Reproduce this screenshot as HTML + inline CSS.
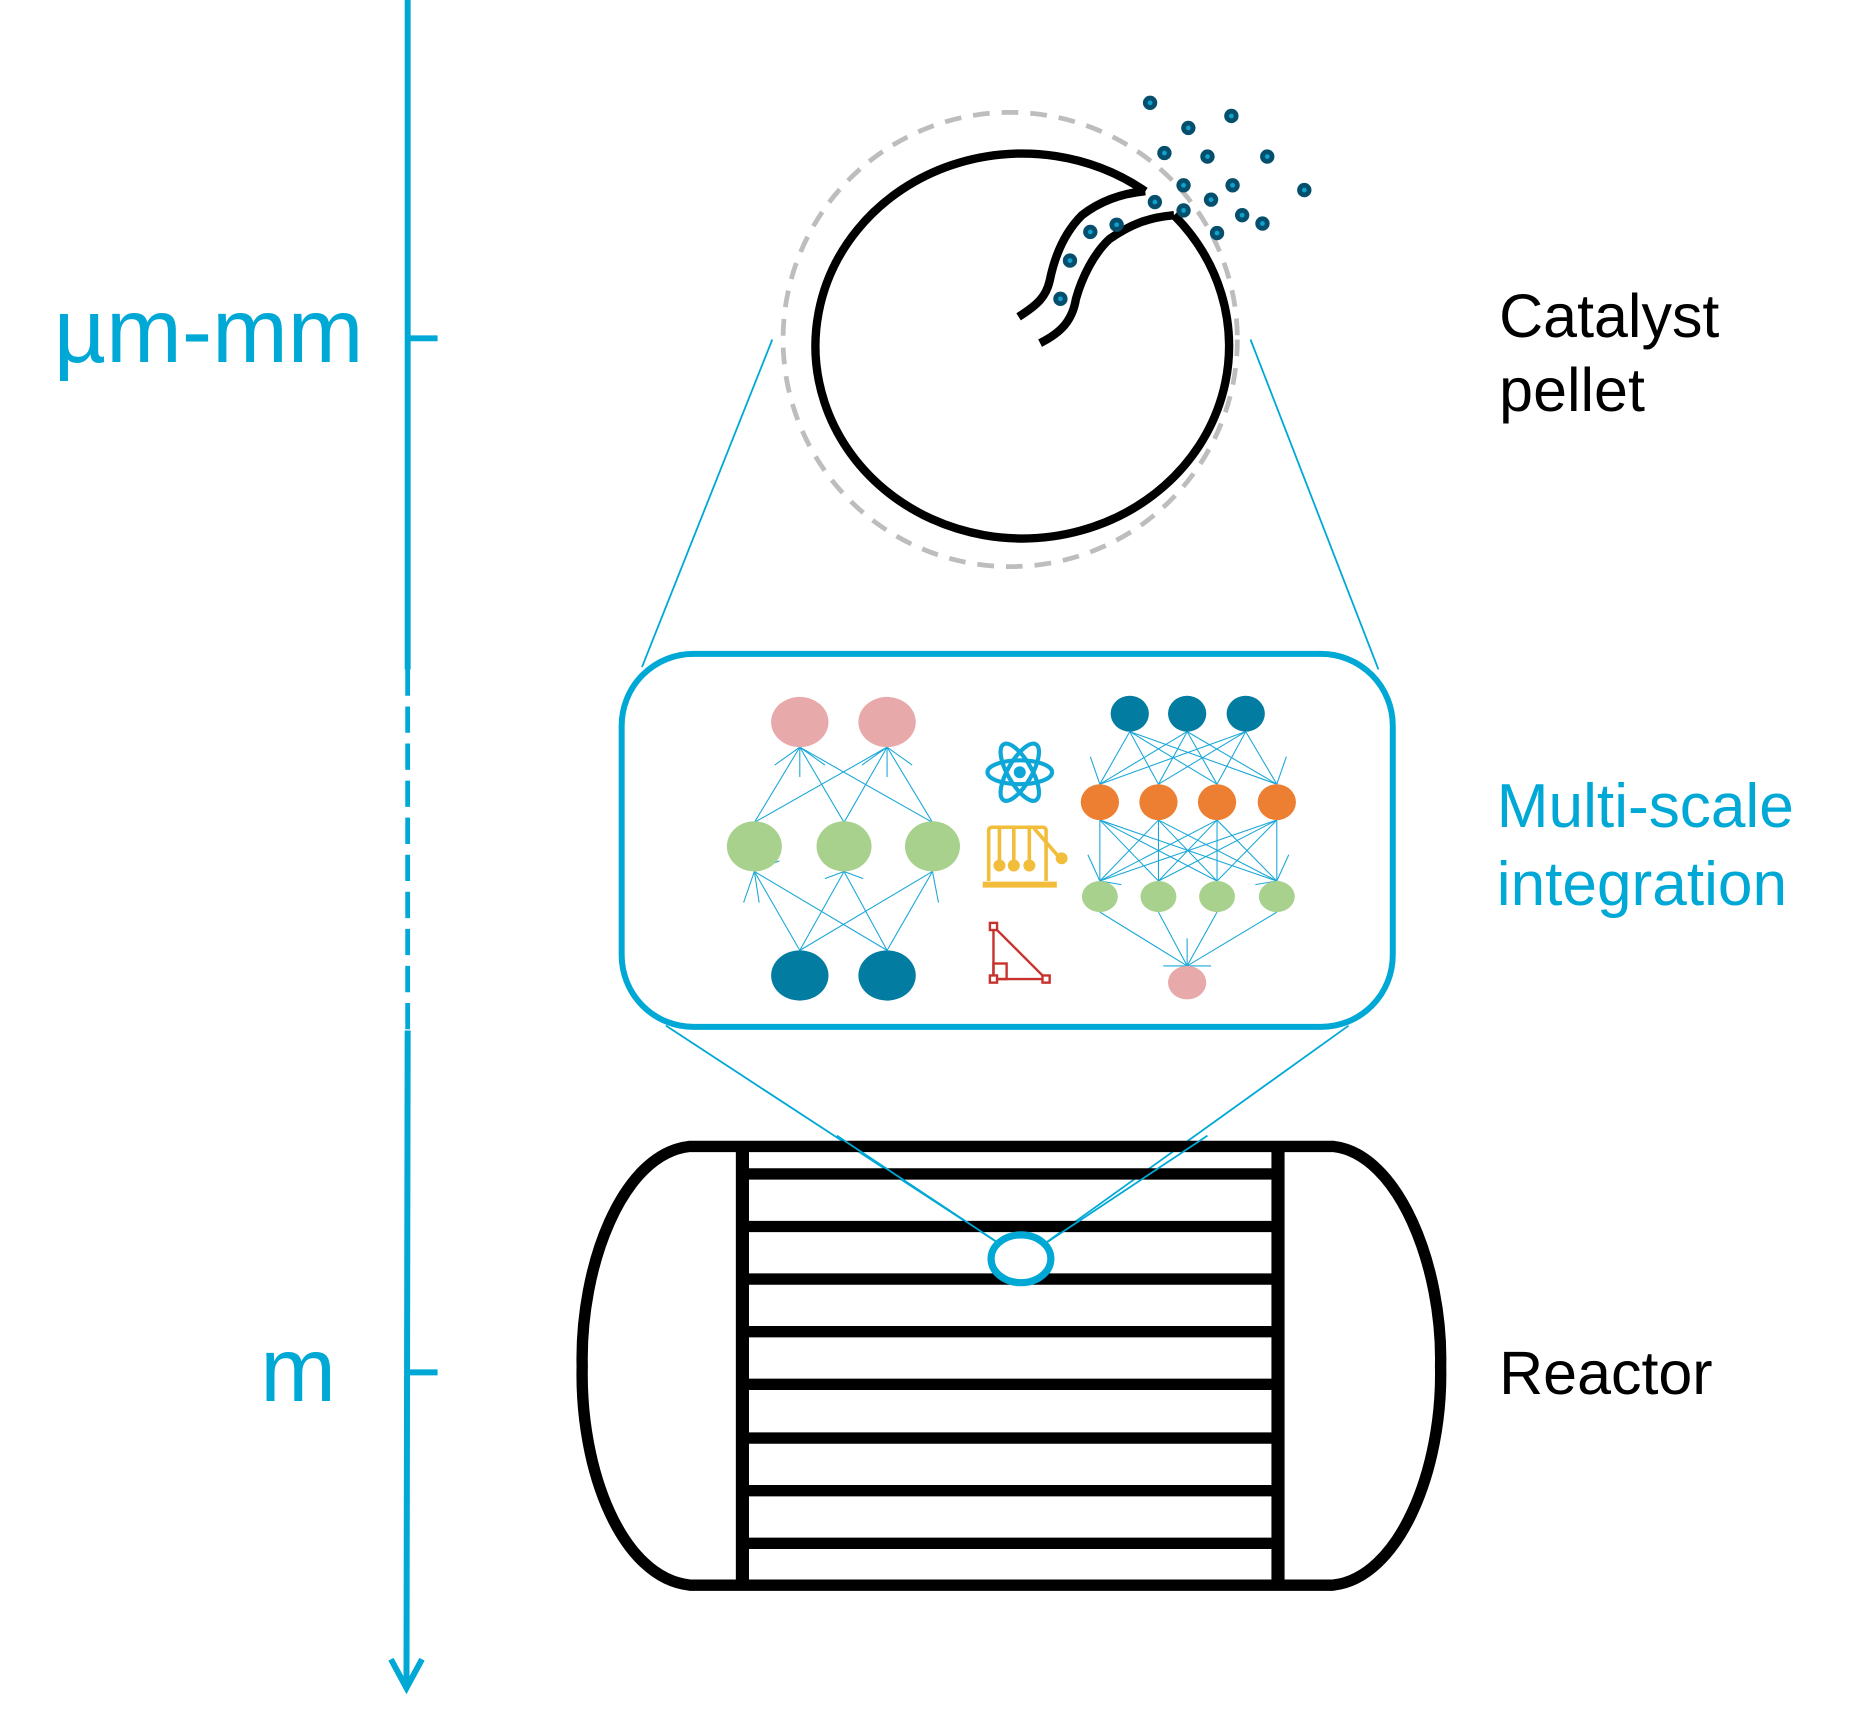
<!DOCTYPE html>
<html><head><meta charset="utf-8"><style>
html,body{margin:0;padding:0;background:#fff;}
svg{display:block;}
text{font-family:"Liberation Sans",Arial,sans-serif;}
</style></head><body>
<svg width="1865" height="1725" viewBox="0 0 1560 1443" preserveAspectRatio="none" xmlns="http://www.w3.org/2000/svg">
<!-- axis -->
<g stroke="#00a8d6" fill="none">
<line x1="341" y1="0" x2="341" y2="560" stroke-width="5"/>
<line x1="341" y1="560" x2="341" y2="862" stroke-width="4" stroke-dasharray="22,9"/>
<line x1="341" y1="862" x2="340" y2="1410" stroke-width="5"/>
<polyline points="327,1388 340,1412 353,1388" stroke-width="5"/>
<line x1="341" y1="283" x2="366" y2="283" stroke-width="5"/>
<line x1="341" y1="1148" x2="366" y2="1148" stroke-width="5"/>
</g>
<text x="304" y="303" font-size="76" fill="#00a8d6" text-anchor="end">µm-mm</text>
<text x="281" y="1172" font-size="76" fill="#00a8d6" text-anchor="end">m</text>

<!-- labels -->
<text x="1254" y="282" font-size="51" fill="#000">Catalyst</text>
<text x="1254" y="344" font-size="51" fill="#000">pellet</text>
<text x="1252" y="692" font-size="52" fill="#00a8d6">Multi-scale</text>
<text x="1252" y="757" font-size="52" fill="#00a8d6">integration</text>
<text x="1254" y="1166" font-size="51" fill="#000">Reactor</text>

<!-- connector lines -->
<g stroke="#00a8d6" stroke-width="1.5" fill="none">
<line x1="646" y1="284" x2="537" y2="558"/>
<line x1="1046" y1="284" x2="1153" y2="560"/>
<line x1="557" y1="858" x2="840" y2="1043"/>
<line x1="1128" y1="858" x2="870" y2="1043"/>
</g>

<!-- pellet -->
<circle cx="845" cy="284" r="190" fill="none" stroke="#bdbdbd" stroke-width="4" stroke-dasharray="14,10"/>
<path d="M958,160 A173,161 0 1 0 982,180" fill="none" stroke="#000" stroke-width="7"/>
<path d="M958,160 C935,162 918,170 905,180 C890,195 882,215 878,235 C875,248 868,255 852,265" fill="none" stroke="#000" stroke-width="7"/>
<path d="M982,180 C960,182 945,188 928,200 C915,212 905,232 900,250 C897,268 888,278 870,287" fill="none" stroke="#000" stroke-width="7"/>
<g fill="#064f6c">
<circle cx="962" cy="86" r="6"/><circle cx="994" cy="107" r="6"/><circle cx="1030" cy="97" r="6"/>
<circle cx="974" cy="128" r="6"/><circle cx="1010" cy="131" r="6"/><circle cx="1060" cy="131" r="6"/>
<circle cx="990" cy="155" r="6"/><circle cx="1031" cy="155" r="6"/><circle cx="1091" cy="159" r="6"/>
<circle cx="966" cy="169" r="6"/><circle cx="1013" cy="167" r="6"/><circle cx="990" cy="176" r="6"/>
<circle cx="1039" cy="180" r="6"/><circle cx="1056" cy="187" r="6"/><circle cx="1018" cy="195" r="6"/>
<circle cx="934" cy="188" r="6"/><circle cx="912" cy="194" r="6"/><circle cx="895" cy="218" r="6"/>
<circle cx="887" cy="250" r="6"/>
</g>
<g fill="#0ea2cf">
<circle cx="962" cy="86" r="2"/><circle cx="994" cy="107" r="2"/><circle cx="1030" cy="97" r="2"/>
<circle cx="974" cy="128" r="2"/><circle cx="1010" cy="131" r="2"/><circle cx="1060" cy="131" r="2"/>
<circle cx="990" cy="155" r="2"/><circle cx="1031" cy="155" r="2"/><circle cx="1091" cy="159" r="2"/>
<circle cx="966" cy="169" r="2"/><circle cx="1013" cy="167" r="2"/><circle cx="990" cy="176" r="2"/>
<circle cx="1039" cy="180" r="2"/><circle cx="1056" cy="187" r="2"/><circle cx="1018" cy="195" r="2"/>
<circle cx="934" cy="188" r="2"/><circle cx="912" cy="194" r="2"/><circle cx="895" cy="218" r="2"/>
<circle cx="887" cy="250" r="2"/>
</g>

<!-- integration box -->
<rect x="520" y="547" width="645" height="312" rx="60" fill="#fff" stroke="#00a8d6" stroke-width="5"/>

<!-- left NN lines -->
<g stroke="#1aa7d8" stroke-width="0.9">
<line x1="669" y1="625" x2="631" y2="688"/><line x1="669" y1="625" x2="706" y2="688"/><line x1="669" y1="625" x2="780" y2="688"/>
<line x1="742" y1="625" x2="631" y2="688"/><line x1="742" y1="625" x2="706" y2="688"/><line x1="742" y1="625" x2="780" y2="688"/>
<line x1="631" y1="729" x2="669" y2="795"/><line x1="631" y1="729" x2="742" y2="795"/>
<line x1="706" y1="729" x2="669" y2="795"/><line x1="706" y1="729" x2="742" y2="795"/>
<line x1="780" y1="729" x2="669" y2="795"/><line x1="780" y1="729" x2="742" y2="795"/>
<line x1="669" y1="625" x2="648" y2="640"/><line x1="669" y1="625" x2="690" y2="640"/><line x1="669" y1="625" x2="669" y2="650"/>
<line x1="742" y1="625" x2="721" y2="640"/><line x1="742" y1="625" x2="763" y2="640"/><line x1="742" y1="625" x2="742" y2="650"/>
<line x1="631" y1="729" x2="622" y2="755"/><line x1="631" y1="729" x2="635" y2="755"/><line x1="631" y1="729" x2="652" y2="720"/>
<line x1="706" y1="729" x2="690" y2="735"/><line x1="706" y1="729" x2="722" y2="735"/>
<line x1="780" y1="729" x2="785" y2="755"/><line x1="780" y1="729" x2="764" y2="720"/>
</g>
<g>
<ellipse cx="669" cy="604" rx="24" ry="21" fill="#e8a9aa"/><ellipse cx="742" cy="604" rx="24" ry="21" fill="#e8a9aa"/>
<ellipse cx="631" cy="708" rx="23" ry="21" fill="#a8d18d"/><ellipse cx="706" cy="708" rx="23" ry="21" fill="#a8d18d"/><ellipse cx="780" cy="708" rx="23" ry="21" fill="#a8d18d"/>
<ellipse cx="669" cy="816" rx="24" ry="21" fill="#037ca1"/><ellipse cx="742" cy="816" rx="24" ry="21" fill="#037ca1"/>
</g>

<!-- icons -->
<g fill="none" stroke="#0ea7d8" stroke-width="3.5">
<ellipse cx="853" cy="646" rx="27" ry="10"/>
<ellipse cx="853" cy="646" rx="27" ry="10" transform="rotate(60 853 646)"/>
<ellipse cx="853" cy="646" rx="27" ry="10" transform="rotate(-60 853 646)"/>
</g>
<circle cx="853" cy="646" r="5" fill="#0ea7d8"/>
<g stroke="#f2bd3b" stroke-width="3" fill="none">
<path d="M827,737 V695 Q827,692 830,692 H872 Q875,692 875,695 V737"/>
<line x1="836" y1="692" x2="836" y2="722"/><line x1="848" y1="692" x2="848" y2="722"/><line x1="861" y1="692" x2="861" y2="722"/>
<line x1="865" y1="693" x2="885" y2="716"/>
<line x1="822" y1="740" x2="884" y2="740" stroke-width="5"/>
</g>
<g fill="#f2bd3b"><circle cx="836" cy="724" r="5"/><circle cx="848" cy="724" r="5"/><circle cx="861" cy="724" r="5"/><circle cx="888" cy="718" r="5"/></g>
<g stroke="#c8322d" stroke-width="2" fill="#fff">
<polyline points="831,775 831,819 875,819 831,775" fill="none"/>
<rect x="831" y="806" width="11" height="13" fill="none"/>
<rect x="828" y="772" width="6" height="6"/><rect x="828" y="816" width="6" height="6"/><rect x="872" y="816" width="6" height="6"/>
</g>

<!-- right NN lines -->
<g stroke="#1aa7d8" stroke-width="0.9">
<line x1="945" y1="612" x2="920" y2="656"/><line x1="945" y1="612" x2="969" y2="656"/><line x1="945" y1="612" x2="1018" y2="656"/><line x1="945" y1="612" x2="1068" y2="656"/>
<line x1="993" y1="612" x2="920" y2="656"/><line x1="993" y1="612" x2="969" y2="656"/><line x1="993" y1="612" x2="1018" y2="656"/><line x1="993" y1="612" x2="1068" y2="656"/>
<line x1="1042" y1="612" x2="920" y2="656"/><line x1="1042" y1="612" x2="969" y2="656"/><line x1="1042" y1="612" x2="1018" y2="656"/><line x1="1042" y1="612" x2="1068" y2="656"/>
<line x1="920" y1="686" x2="920" y2="737"/><line x1="920" y1="686" x2="969" y2="737"/><line x1="920" y1="686" x2="1018" y2="737"/><line x1="920" y1="686" x2="1068" y2="737"/>
<line x1="969" y1="686" x2="920" y2="737"/><line x1="969" y1="686" x2="969" y2="737"/><line x1="969" y1="686" x2="1018" y2="737"/><line x1="969" y1="686" x2="1068" y2="737"/>
<line x1="1018" y1="686" x2="920" y2="737"/><line x1="1018" y1="686" x2="969" y2="737"/><line x1="1018" y1="686" x2="1018" y2="737"/><line x1="1018" y1="686" x2="1068" y2="737"/>
<line x1="1068" y1="686" x2="920" y2="737"/><line x1="1068" y1="686" x2="969" y2="737"/><line x1="1068" y1="686" x2="1018" y2="737"/><line x1="1068" y1="686" x2="1068" y2="737"/>
<line x1="920" y1="763" x2="993" y2="808"/><line x1="969" y1="763" x2="993" y2="808"/><line x1="1018" y1="763" x2="993" y2="808"/><line x1="1068" y1="763" x2="993" y2="808"/>
<line x1="993" y1="808" x2="993" y2="785"/><line x1="973" y1="808" x2="1013" y2="808"/>
<line x1="920" y1="656" x2="912" y2="633"/><line x1="1068" y1="656" x2="1076" y2="633"/><line x1="920" y1="656" x2="935" y2="670"/><line x1="1068" y1="656" x2="1053" y2="670"/>
<line x1="920" y1="737" x2="910" y2="715"/><line x1="1068" y1="737" x2="1078" y2="715"/><line x1="920" y1="737" x2="938" y2="740"/><line x1="1068" y1="737" x2="1050" y2="740"/>
</g>
<g>
<ellipse cx="945" cy="597" rx="16" ry="15" fill="#037ca1"/><ellipse cx="993" cy="597" rx="16" ry="15" fill="#037ca1"/><ellipse cx="1042" cy="597" rx="16" ry="15" fill="#037ca1"/>
<ellipse cx="920" cy="671" rx="16" ry="15" fill="#ec7f31"/><ellipse cx="969" cy="671" rx="16" ry="15" fill="#ec7f31"/><ellipse cx="1018" cy="671" rx="16" ry="15" fill="#ec7f31"/><ellipse cx="1068" cy="671" rx="16" ry="15" fill="#ec7f31"/>
<ellipse cx="920" cy="750" rx="15" ry="13" fill="#a8d18d"/><ellipse cx="969" cy="750" rx="15" ry="13" fill="#a8d18d"/><ellipse cx="1018" cy="750" rx="15" ry="13" fill="#a8d18d"/><ellipse cx="1068" cy="750" rx="15" ry="13" fill="#a8d18d"/>
<ellipse cx="993" cy="822" rx="16" ry="14" fill="#e8a9aa"/>
</g>

<!-- reactor -->
<path d="M577,959 H1115 C1170,965 1207,1060 1205,1143 C1207,1230 1170,1320 1115,1326 H577 C520,1320 485,1230 487,1143 C485,1060 520,965 577,959 Z" fill="none" stroke="#000" stroke-width="9.5"/>
<g stroke="#000" stroke-width="9.5">
<line x1="621" y1="959" x2="621" y2="1326" stroke-width="11"/>
<line x1="1069" y1="959" x2="1069" y2="1326" stroke-width="11"/>
<line x1="621" y1="982" x2="1069" y2="982"/>
<line x1="621" y1="1026" x2="1069" y2="1026"/>
<line x1="621" y1="1070" x2="1069" y2="1070"/>
<line x1="621" y1="1114" x2="1069" y2="1114"/>
<line x1="621" y1="1158" x2="1069" y2="1158"/>
<line x1="621" y1="1203" x2="1069" y2="1203"/>
<line x1="621" y1="1247" x2="1069" y2="1247"/>
<line x1="621" y1="1291" x2="1069" y2="1291"/>
</g>
<g stroke="#00a8d6" stroke-width="1.5"><line x1="700" y1="950" x2="840" y2="1043"/><line x1="1010" y1="950" x2="870" y2="1043"/></g>
<ellipse cx="854" cy="1053" rx="25" ry="20" fill="#fff" stroke="#00a8d6" stroke-width="6"/>
</svg>
</body></html>
